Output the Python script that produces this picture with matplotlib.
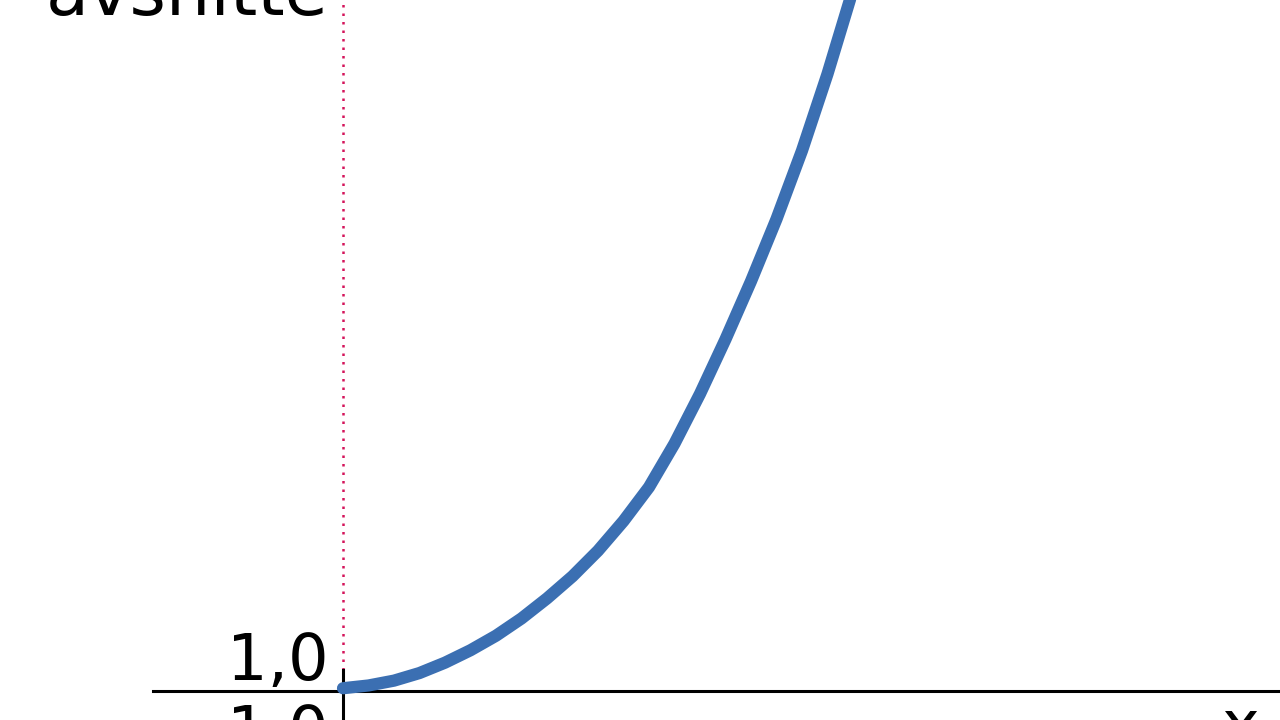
import numpy as np
import matplotlib.pyplot as plt

# curve values
x_vals = [1.00, 1.05, 1.10, 1.15, 1.20, 1.25, 1.30, 1.35, 1.40, 1.45, 1.50,
          1.55, 1.60, 1.65, 1.70, 1.75, 1.80, 1.85, 1.90, 1.95, 2.00]
y_vals = [1.004, 1.008, 1.015, 1.026, 1.041, 1.059, 1.080, 1.105, 1.134, 1.166, 1.203,
          1.246, 1.295, 1.358, 1.430, 1.509, 1.593, 1.683, 1.782, 1.893, 2.015]

x_start = 1.0
y_base = 1.0
ytick_label = "1,0"
xtick_label = "1,0"
y_title = "avsnitte"
x_title = "x"

W, H = 1280, 720
fig = plt.figure(figsize=(W / 100, H / 100), dpi=100)
ax = fig.add_axes([0, 0, 1, 1])
ax.set_xlim(1 - 343 / 510, 1 + (W - 343) / 510)
ax.set_ylim(1 - 29 / 691, 1 + 691 / 691)
ax.axis('off')

# axes
ax.axhline(y_base, xmin=153 / W, xmax=1, color='black', lw=2.2, zorder=2)
ax.axvline(x_start, ymin=0, ymax=(H - 670) / H, color='black', lw=2.2, zorder=2)
ax.axvline(x_start, ymin=(H - 670) / H, ymax=1, color='#d4145a', lw=1.8,
           linestyle=(0, (1, 2.4)), zorder=1)

# curve
ax.plot(x_vals, y_vals, color='#3b6fb2', lw=8.8, solid_capstyle='round',
        solid_joinstyle='round', zorder=3)

# labels
fs = 46
fig.text(329 / W, 1 - 680 / H, ytick_label, ha='right', va='baseline', fontsize=fs)
fig.text(329 / W, 1 - 752 / H, xtick_label, ha='right', va='baseline', fontsize=fs)
fig.text(328 / W, 1 - 15 / H, y_title, ha='right', va='baseline', fontsize=50.5)
fig.text(1240 / W, 1 - 746 / H, x_title, ha='center', va='baseline', fontsize=fs)

fig.savefig('out.png', dpi=100)
